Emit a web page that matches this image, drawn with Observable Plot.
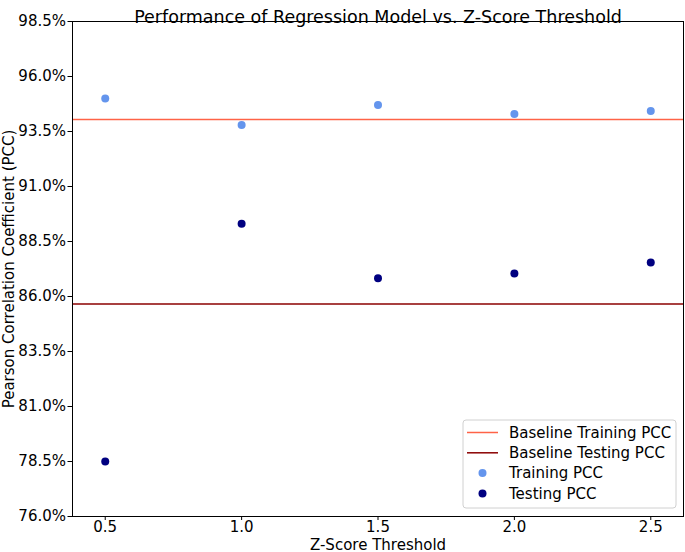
<!DOCTYPE html>
<html>
<head>
<meta charset="utf-8">
<script src="https://cdn.jsdelivr.net/npm/d3@7"></script>
<script src="https://cdn.jsdelivr.net/npm/@observablehq/plot@0.6"></script>
<style>
  html, body { margin: 0; padding: 0; background: white; }
</style>
</head>
<body>
<div id="chart"></div>
<script>
const thresholds = [0.5, 1.0, 1.5, 2.0, 2.5];
const trainingPCC = [95.0, 93.8, 94.71, 94.3, 94.43];
const testingPCC = [78.5, 89.31, 86.83, 87.04, 87.54];
const baselineTrainingPCC = 94.05;
const baselineTestingPCC = 85.66;
const yTicks = [76.0, 78.5, 81.0, 83.5, 86.0, 88.5, 91.0, 93.5, 96.0, 98.5];
const xTicks = [0.5, 1.0, 1.5, 2.0, 2.5];
const titleText = "Performance of Regression Model vs. Z-Score Threshold";
const legendItems = [
  {label: "Baseline Training PCC", type: "line", color: "#ff6347"},
  {label: "Baseline Testing PCC", type: "line", color: "#8b0000"},
  {label: "Training PCC", type: "dot", color: "#6495ed"},
  {label: "Testing PCC", type: "dot", color: "#000080"}
];

const training = thresholds.map((x, i) => ({x, y: trainingPCC[i]}));
const testing = thresholds.map((x, i) => ({x, y: testingPCC[i]}));

const W = 685, H = 552, mL = 72, mR = 2, mT = 21, mB = 36;

const chart = Plot.plot({
  width: W, height: H,
  marginLeft: mL, marginRight: mR, marginTop: mT, marginBottom: mB,
  style: {fontFamily: "DejaVu Sans", fontSize: "15px", color: "black", background: "white", overflow: "visible"},
  x: {domain: [0.38, 2.62], ticks: xTicks, tickFormat: d => d.toFixed(1), label: "Z-Score Threshold",
      labelAnchor: "center", labelArrow: "none", labelOffset: 33, tickSize: 4, tickPadding: 1},
  y: {domain: [76, 98.5], ticks: yTicks, tickFormat: d => d.toFixed(1) + "%", label: "Pearson Correlation Coefficient (PCC)",
      labelAnchor: "center", labelArrow: "none", labelOffset: 69, tickSize: 4.5, tickPadding: 2},
  marks: [
    Plot.ruleY([baselineTrainingPCC], {stroke: legendItems[0].color, strokeWidth: 1.5}),
    Plot.ruleY([baselineTestingPCC], {stroke: legendItems[1].color, strokeWidth: 1.5}),
    Plot.dot(training, {x: "x", y: "y", r: 4, fill: legendItems[2].color, stroke: "none"}),
    Plot.dot(testing, {x: "x", y: "y", r: 4, fill: legendItems[3].color, stroke: "none"}),
    Plot.frame({stroke: "black", strokeWidth: 1}),
    Plot.text([titleText], {frameAnchor: "top", dy: -11, fontSize: 17.5, fill: "black"})
  ]
});

document.getElementById("chart").appendChild(chart);

// Legend (drawn into the SVG)
const svg = d3.select(chart);
const lg = svg.append("g").attr("font-family", "DejaVu Sans").attr("font-size", "15px").attr("text-anchor", "start");
const lx = 463, ly = 420, lw = 213, lh = 88;
lg.append("rect").attr("x", lx).attr("y", ly).attr("width", lw).attr("height", lh)
  .attr("rx", 3).attr("fill", "white").attr("fill-opacity", 0.8).attr("stroke", "#d0d0d0");
legendItems.forEach((d, i) => {
  const cy = ly + 12.5 + i * 20.3;
  if (d.type === "line") {
    lg.append("line").attr("x1", lx + 4).attr("x2", lx + 35).attr("y1", cy).attr("y2", cy)
      .attr("stroke", d.color).attr("stroke-width", 1.5);
  } else {
    lg.append("circle").attr("cx", lx + 19.5).attr("cy", cy).attr("r", 4).attr("fill", d.color);
  }
  lg.append("text").attr("x", lx + 46).attr("y", cy).attr("dy", "0.35em").attr("fill", "black").text(d.label);
});
</script>
</body>
</html>
